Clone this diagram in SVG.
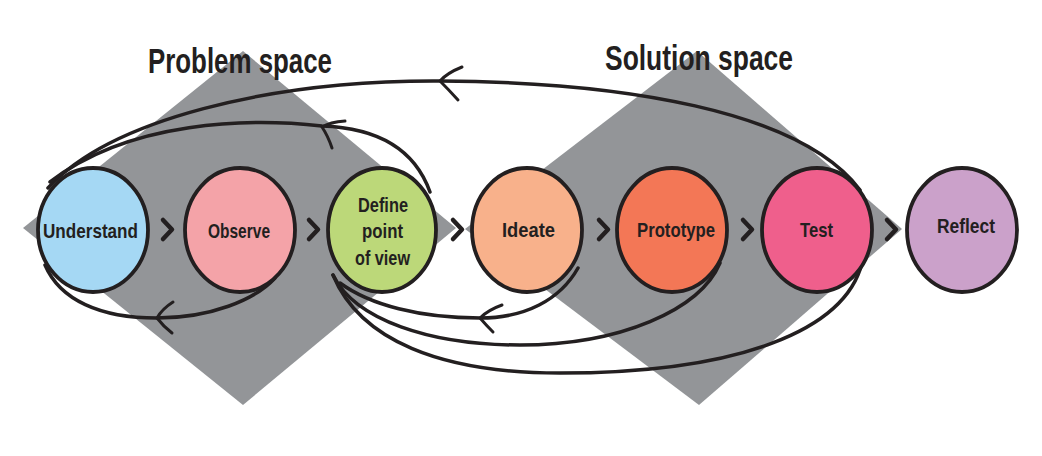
<svg xmlns="http://www.w3.org/2000/svg" width="1042" height="456" viewBox="0 0 1042 456">
<style>
.bg{fill:#ffffff}
.diamond{fill:#939598}
.node{stroke:#231f20;stroke-width:3.8}
.lbl{font-family:'Liberation Sans',Arial,sans-serif;font-weight:bold;font-size:21px;fill:#231f20}
.title{font-family:'Liberation Sans',Arial,sans-serif;font-weight:bold;font-size:35px;fill:#231f20}
.chev{fill:none;stroke:#231f20;stroke-width:4.5;stroke-linecap:round;stroke-linejoin:round}
.link{fill:none;stroke:#231f20;stroke-width:3.5;stroke-linecap:round}
.head{fill:none;stroke:#231f20;stroke-width:3;stroke-linecap:round;stroke-linejoin:round}
</style>
<rect class="bg" x="0" y="0" width="1042" height="456"/>
<g id="diamonds">
<polygon class="diamond" points="243,51 456,228 243,405 23,228"/>
<polygon class="diamond" points="697,51 902,229 699,405 465,229"/>
</g>
<g id="titles">
<text class="title" x="148" y="73" textLength="184" lengthAdjust="spacingAndGlyphs">Problem space</text>
<text class="title" x="605" y="70" textLength="188" lengthAdjust="spacingAndGlyphs">Solution space</text>
</g>
<g id="connectors">
<path class="link" d="M860,190 C 800,110 620,82 440,81 C 270,80 110,120 48,188"/>
<path class="head" d="M462,67 Q447,73 440,81 Q449,90 458,100"/>
<path class="link" d="M430,192 C 415,150 380,128 322,126 C 250,118 130,120 50,182"/>
<path class="head" d="M345,121 Q330,122 322,127 Q328,136 332,148"/>
<path class="link" d="M275,278 C 255,300 210,318 157,318 C 100,318 60,300 45,265"/>
<path class="head" d="M173,302 Q162,309 157,318 Q163,326 172,333"/>
<path class="link" d="M578,268 C 560,300 525,318 480,318 C 420,318 370,305 340,283"/>
<path class="head" d="M502,305 Q488,310 480,318 Q486,325 493,332"/>
<path class="link" d="M720,263 C 700,310 620,345 520,345 C 430,345 355,320 333,275"/>
<path class="link" d="M862,263 C 845,330 740,373 560,373 C 440,373 360,340 333,275"/>
</g>
<g id="chevrons">
<path class="chev" d="M163,220 L172,229.5 L163,239"/>
<path class="chev" d="M309,220 L318,229.5 L309,239"/>
<path class="chev" d="M453,220 L462,229.5 L453,239"/>
<path class="chev" d="M599,220 L608,229.5 L599,239"/>
<path class="chev" d="M743,220 L752,229.5 L743,239"/>
<path class="chev" d="M887,220 L896,229.5 L887,239"/>
</g>
<g id="understand">
<ellipse class="node" cx="93" cy="230" rx="55" ry="62" fill="#a5d8f4"/>
<text class="lbl" x="43" y="238" textLength="95" lengthAdjust="spacingAndGlyphs">Understand</text>
</g>
<g id="observe">
<ellipse class="node" cx="240" cy="230" rx="55" ry="62" fill="#f4a3a8"/>
<text class="lbl" x="208" y="238" textLength="62" lengthAdjust="spacingAndGlyphs">Observe</text>
</g>
<g id="define">
<ellipse class="node" cx="382" cy="230" rx="54" ry="62" fill="#bcd879"/>
<text class="lbl" x="358" y="212" textLength="50" lengthAdjust="spacingAndGlyphs">Define</text>
<text class="lbl" x="362" y="238" textLength="41" lengthAdjust="spacingAndGlyphs">point</text>
<text class="lbl" x="355" y="265" textLength="55" lengthAdjust="spacingAndGlyphs">of view</text>
</g>
<g id="ideate">
<ellipse class="node" cx="527" cy="230" rx="55" ry="62" fill="#f8b18b"/>
<text class="lbl" x="502" y="237" textLength="53" lengthAdjust="spacingAndGlyphs">Ideate</text>
</g>
<g id="prototype">
<ellipse class="node" cx="672" cy="230" rx="55" ry="62" fill="#f37756"/>
<text class="lbl" x="637" y="237" textLength="78" lengthAdjust="spacingAndGlyphs">Prototype</text>
</g>
<g id="test">
<ellipse class="node" cx="817" cy="230" rx="55" ry="62" fill="#ef5f8c"/>
<text class="lbl" x="800" y="237" textLength="33" lengthAdjust="spacingAndGlyphs">Test</text>
</g>
<g id="reflect">
<ellipse class="node" cx="962" cy="230" rx="55" ry="62" fill="#cba1ca"/>
<text class="lbl" x="937" y="233" textLength="58" lengthAdjust="spacingAndGlyphs">Reflect</text>
</g>
</svg>
